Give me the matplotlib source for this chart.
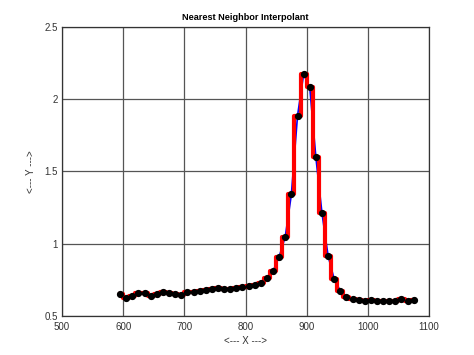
import numpy as np
import matplotlib
matplotlib.use("Agg")
import matplotlib.pyplot as plt
from matplotlib.ticker import StrMethodFormatter

plt.rcParams['font.family'] = ['Liberation Sans', 'DejaVu Sans']

# sample points (x every 10 units)
x = np.arange(595, 1076, 10)
y = [0.650, 0.622, 0.640, 0.657, 0.657, 0.640, 0.652, 0.664, 0.657, 0.652,
     0.645, 0.664, 0.668, 0.673, 0.680, 0.685, 0.692, 0.685, 0.685, 0.692,
     0.699, 0.708, 0.715, 0.731, 0.760, 0.810, 0.910, 1.049, 1.342, 1.885,
     2.172, 2.083, 1.600, 1.212, 0.916, 0.754, 0.675, 0.634, 0.618, 0.611,
     0.606, 0.611, 0.606, 0.604, 0.604, 0.604, 0.616, 0.604, 0.611]

fig = plt.figure(figsize=(4.74, 3.55), dpi=100)
ax = fig.add_axes([0.1308, 0.1099, 0.7743, 0.8141])

ax.plot(x, y, color='blue', lw=1.2, zorder=2)
ax.step(x, y, where='mid', color='red', lw=3.0, zorder=3)
ax.plot(x, y, 'o', color='black', ms=4.2, zorder=4)

ax.set_xlim(500, 1100)
ax.set_ylim(0.5, 2.5)
ax.set_xticks(np.arange(500, 1101, 100))
ax.set_yticks([0.5, 1, 1.5, 2, 2.5])
ax.yaxis.set_major_formatter(StrMethodFormatter('{x:g}'))
ax.grid(True, color='#555555', lw=0.9)
ax.set_axisbelow(True)
ax.tick_params(length=0, labelsize=7, colors='#333333')
ax.tick_params(axis='x', pad=4)
ax.tick_params(axis='y', pad=3)
for s in ax.spines.values():
    s.set_color('#333333')
    s.set_linewidth(0.9)

ax.set_title('Nearest Neighbor Interpolant', fontsize=6.6, fontweight='bold', pad=5)
ax.set_xlabel('<--- X --->', fontsize=7, color='#333333', labelpad=3)
ax.set_ylabel('<--- Y --->', fontsize=7, color='#333333', labelpad=6)

fig.savefig('out.png', dpi=100)
